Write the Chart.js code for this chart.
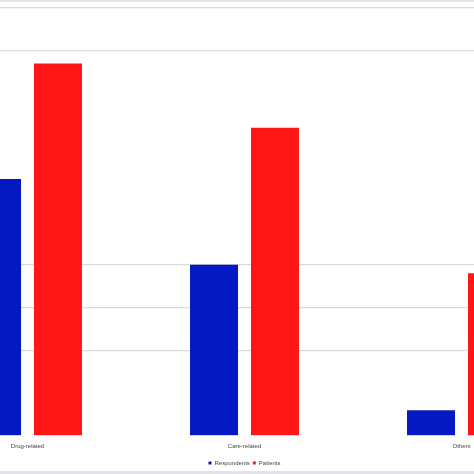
<!DOCTYPE html>
<html>
<head>
<meta charset="utf-8">
<script src="https://cdn.jsdelivr.net/npm/chart.js@4"></script>
<style>
  html, body { margin:0; padding:0; background:#fff; overflow:hidden; }
  #frame { position:absolute; left:0; top:0; width:474px; height:474px; overflow:hidden; }
  #topband { position:absolute; left:0; top:0; width:474px; height:2px; background:#e3e3ea; }
  #botband { position:absolute; left:0; top:471px; width:474px; height:3px; background:#e3e3ea; }
  #wrap { position:absolute; left:-81px; top:0; width:651px; height:487px; }
</style>
</head>
<body>
<div id="frame">
  <div id="wrap"><canvas id="c" width="651" height="487"></canvas></div>
  <div id="topband"></div>
  <div id="botband"></div>
</div>
<script>
const categories = ["Drug-related", "Care-related", "Others"];
const seriesNames = ["Respondents", "Patients"];
const respondents = [60, 40, 6];
const patients = [87, 72, 38];
const visibleGrid = [100, 90, 40, 30, 20];

new Chart(document.getElementById('c'), {
  type: 'bar',
  data: {
    labels: categories,
    datasets: [
      { label: seriesNames[0], data: respondents, backgroundColor: '#0419c2', borderWidth: 0 },
      { label: seriesNames[1], data: patients, backgroundColor: '#ff1717', borderWidth: 0 }
    ]
  },
  options: {
    responsive: false,
    devicePixelRatio: 1,
    animation: false,
    datasets: { bar: { categoryPercentage: 0.562, barPercentage: 0.787 } },
    layout: { padding: { top: 8, bottom: 11, left: 0, right: 0 } },
    scales: {
      x: {
        grid: { display: false, drawTicks: false },
        border: { display: false },
        ticks: { font: { size: 6, family: 'Liberation Sans' }, color: '#444', padding: 7 }
      },
      y: {
        min: 0, max: 100,
        ticks: { display: false, stepSize: 10 },
        border: { display: false },
        grid: {
          color: (ctx) => visibleGrid.includes(ctx.tick.value) ? '#d9d9e1' : 'rgba(0,0,0,0)',
          lineWidth: 1.3,
          drawTicks: false
        }
      }
    },
    plugins: {
      legend: {
        position: 'bottom',
        labels: { font: { size: 6, family: 'Liberation Sans' }, color: '#444', boxWidth: 3, boxHeight: 3, padding: 3 }
      },
      tooltip: { enabled: false }
    }
  }
});
</script>
</body>
</html>
